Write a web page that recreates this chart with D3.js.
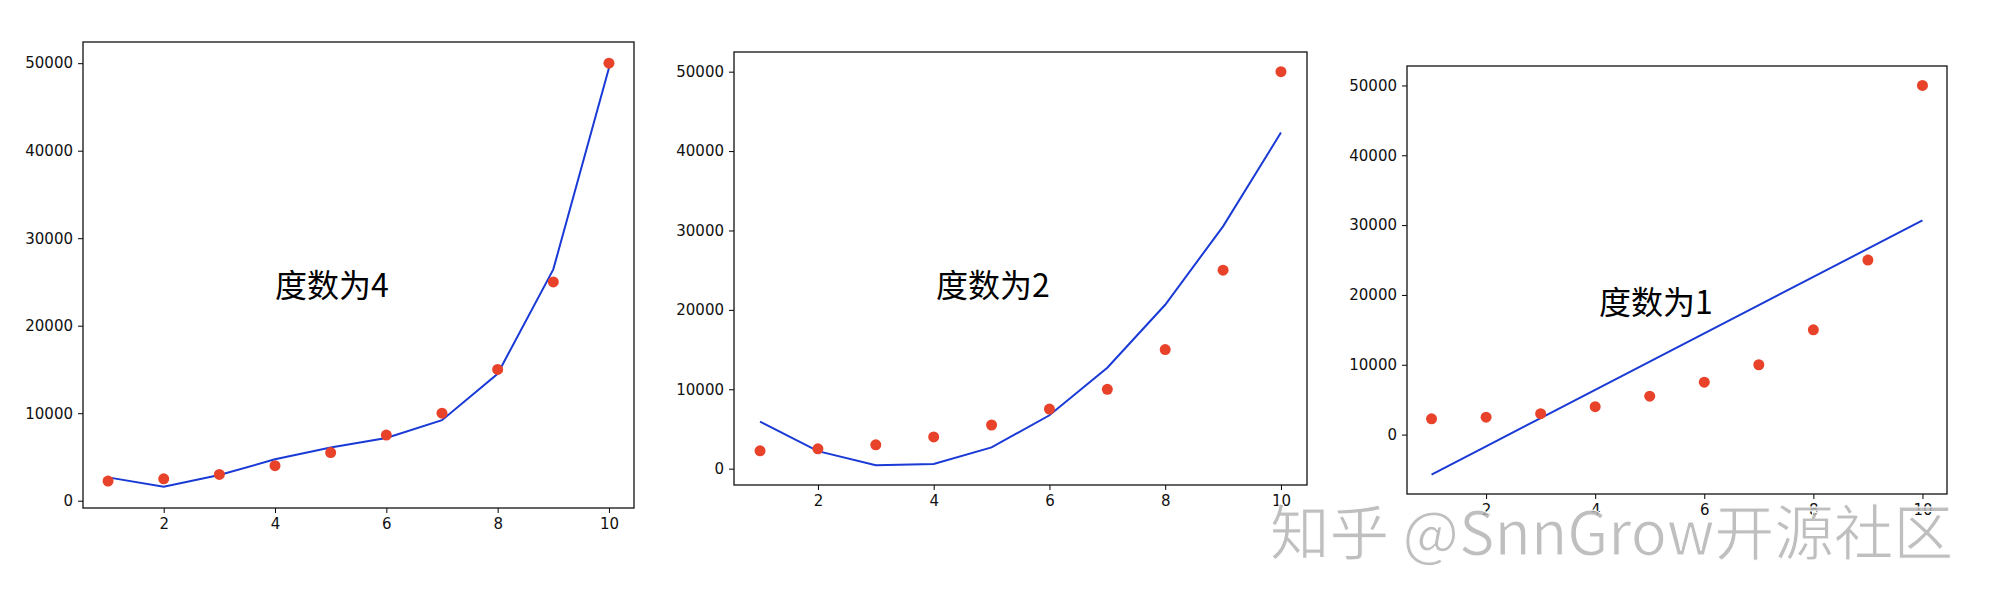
<!DOCTYPE html>
<html><head><meta charset="utf-8">
<script src="https://cdn.jsdelivr.net/npm/d3@7"></script>
<style>body{margin:0;background:#fff}</style>
</head><body>
<svg id="c" width="2006" height="610"></svg>
<script>
// data
const xs = [1, 2, 3, 4, 5, 6, 7, 8, 9, 10];
const ys = [2250, 2500, 3000, 4000, 5500, 7500, 10000, 15000, 25000, 50000];
const fit4 = [2668, 1588, 2932, 4732, 6086, 7164, 9200, 14500, 26435, 49446];
const fit2 = [5936, 2208, 422, 580, 2680, 6724, 12712, 20642, 30516, 42333];
const fit1 = [-5723, -1679, 2365, 6409, 10453, 14497, 18541, 22585, 26629, 30673];
const xTicks = [2, 4, 6, 8, 10];
const yTicks = [0, 10000, 20000, 30000, 40000, 50000];

const panels = [
    { fit: fit4, label: "度数为4", box: [83, 42, 634, 508], lx: 332, ly: 283 },
    { fit: fit2, label: "度数为2", box: [734, 52, 1307, 485], lx: 993, ly: 283 },
    { fit: fit1, label: "度数为1", box: [1407, 66, 1947, 494], lx: 1656, ly: 300 },
];

const svg = d3.select("#c");

panels.forEach(p => {
    const [l, t, r, b] = p.box;
    const all = ys.concat(p.fit);
    const lo = d3.min(all), hi = d3.max(all), m = (hi - lo) * 0.05;
    const x = d3.scaleLinear().domain([0.55, 10.45]).range([l, r]);
    const y = d3.scaleLinear().domain([lo - m, hi + m]).range([b, t]);

    const g = svg.append("g");

    g.append("path")
        .datum(xs)
        .attr("fill", "none")
        .attr("stroke", "#1a3ad6")
        .attr("stroke-width", 2)
        .attr("d", d3.line().x(d => x(d)).y((d, i) => y(p.fit[i])));

    g.selectAll("circle")
        .data(xs)
        .join("circle")
        .attr("cx", d => x(d))
        .attr("cy", (d, i) => y(ys[i]))
        .attr("r", 5.5)
        .attr("fill", "#e8432a");

    g.append("g")
        .attr("transform", `translate(0,${b})`)
        .call(d3.axisBottom(x).tickValues(xTicks).tickSize(5).tickPadding(5))
        .call(a => a.select(".domain").remove());
    g.append("g")
        .attr("transform", `translate(${l},0)`)
        .call(d3.axisLeft(y).tickValues(yTicks).tickFormat(d3.format("d")).tickSize(5).tickPadding(5))
        .call(a => a.select(".domain").remove());
    g.selectAll(".tick text")
        .attr("font-family", "DejaVu Sans")
        .attr("font-size", 15)
        .style("font-family", "DejaVu Sans")
        .style("font-size", "15px")
        .attr("fill", "#111");

    g.append("rect")
        .attr("x", l).attr("y", t)
        .attr("width", r - l).attr("height", b - t)
        .attr("fill", "none")
        .attr("stroke", "#111")
        .attr("stroke-width", 1.3);

    g.append("text")
        .attr("x", p.lx).attr("y", p.ly)
        .attr("text-anchor", "middle")
        .attr("dominant-baseline", "central")
        .style("font-family", "Noto Sans CJK SC")
        .style("font-size", "32px")
        .attr("fill", "#000")
        .text(p.label);
});

// watermark
svg.append("text")
    .attr("x", 1270).attr("y", 555)
    .attr("textLength", 683)
    .attr("lengthAdjust", "spacingAndGlyphs")
    .style("font-family", "Noto Sans CJK SC")
    .style("font-size", "60px")
    .attr("fill", "#b4b4b4")
    .attr("fill-opacity", 0.85)
    .attr("stroke", "#fff")
    .attr("stroke-width", 1)
    .text("知乎 @SnnGrow开源社区");
</script>
</body></html>
